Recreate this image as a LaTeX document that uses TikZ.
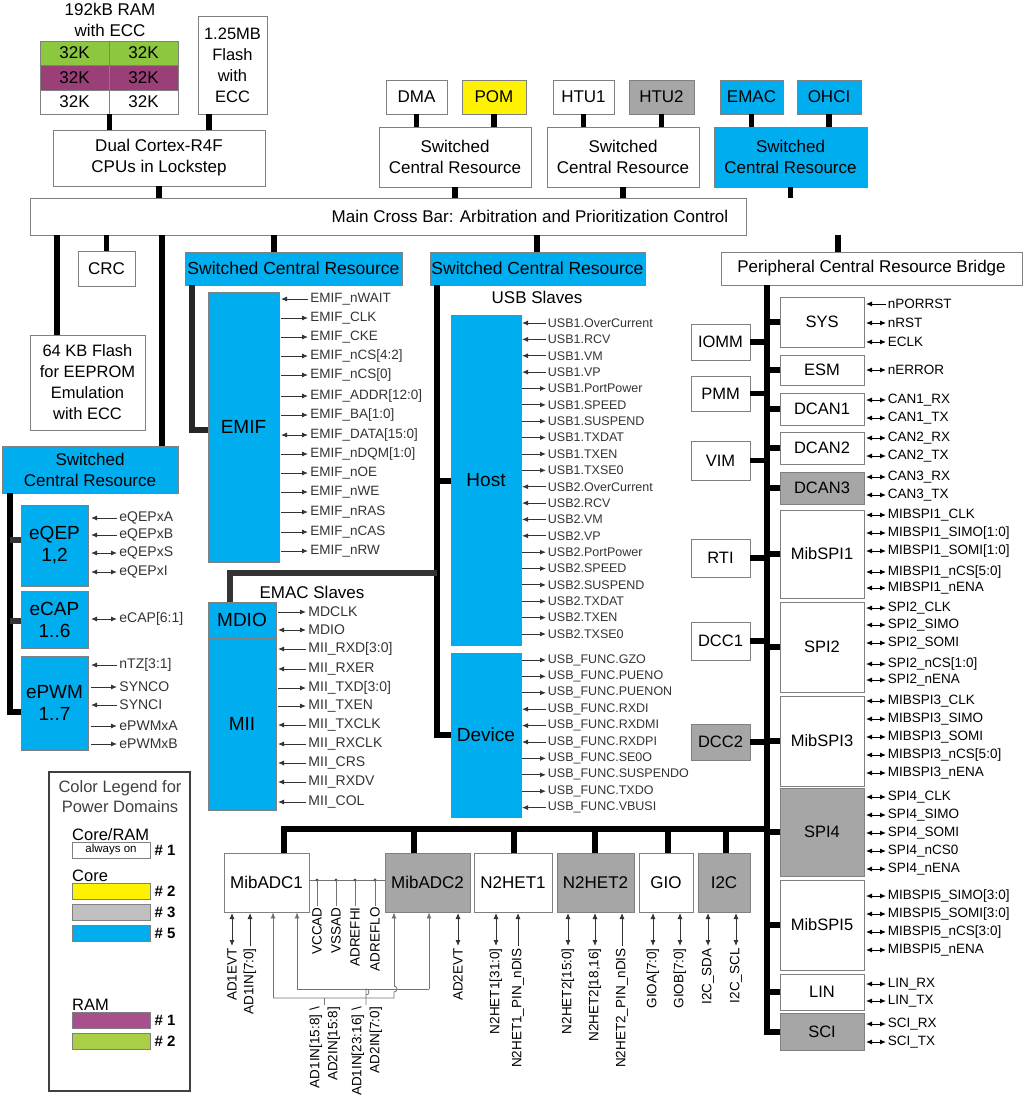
\documentclass[tikz,border=0pt]{standalone}
\usepackage{fontspec}
\setmainfont{Liberation Sans}
\usetikzlibrary{arrows.meta}
\definecolor{cblue}{HTML}{00AEEF}
\definecolor{cgray}{HTML}{A6A6A6}
\definecolor{cyel}{HTML}{FFF200}
\definecolor{rgreen}{HTML}{8DC63F}
\definecolor{rpurp}{HTML}{9B3F78}
\definecolor{lpurp}{HTML}{A94F8C}
\definecolor{lgreen}{HTML}{A8CF45}
\definecolor{lgray}{HTML}{C0C0C0}
\begin{document}
\begin{tikzpicture}[x=1pt,y=-1pt,>={Latex[length=6pt,width=5pt]},
 R/.style n args={4}{at={({(#1+#3)/2},{(#2+#4)/2})},minimum width={(#3-#1)*1pt},minimum height={(#4-#2)*1pt}},
 bx/.style={draw=black!50,line width=0.9pt,inner sep=0pt,align=center,fill=white,font=\fontsize{17}{21}\selectfont},
 big/.style={font=\fontsize{19}{22}\selectfont},
 gr/.style={fill=cgray}, bl/.style={fill=cblue},
 bus/.style={line width=5.5pt,line join=miter},
 sig/.style={line width=0.9pt,black!80},
 sl/.style={font=\fontsize{14}{15}\selectfont,inner sep=2pt},
 ai/.style={<-}, ao/.style={->}, ab/.style={<->},
 thin/.style={black!55,line width=0.8pt}]
\useasboundingbox (0,0) rectangle (1027,1103);

% ---------- top ----------
\node[align=center,font=\fontsize{17}{21}\selectfont] (ramt) at (110,20) {192kB RAM\\with ECC};
\node[bx,fill=rgreen,R={40}{41}{109}{65}] (r11) {32K};
\node[bx,fill=rgreen,R={109}{41}{178}{65}] (r12) {32K};
\node[bx,fill=rpurp,R={40}{65}{109}{90}] (r21) {32K};
\node[bx,fill=rpurp,R={109}{65}{178}{90}] (r22) {32K};
\node[bx,R={40}{90}{109}{114}] (r31) {32K};
\node[bx,R={109}{90}{178}{114}] (r32) {32K};
\node[bx,R={198}{16}{267}{114},font=\fontsize{16.5}{21}\selectfont] (flash) {1.25MB\\Flash\\with\\ECC};
\node[bx,R={53}{130}{265}{186}] (cpu) {Dual Cortex-R4F\\CPUs in Lockstep};
\node[bx,R={30}{198}{746}{235}] (bar) {};
\node[font=\fontsize{17}{21}\selectfont] (bart) at (530,216.5) {Main Cross Bar: Arbitration and Prioritization Control};
\node[bx,R={386}{80}{447}{114}] (dma) {DMA};
\node[bx,fill=cyel,R={462}{80}{526}{114}] (pom) {POM};
\node[bx,R={553}{80}{614}{114}] (htu1) {HTU1};
\node[bx,gr,R={629}{80}{694}{114}] (htu2) {HTU2};
\node[bx,bl,R={720}{80}{783}{114}] (emac) {EMAC};
\node[bx,bl,R={797}{80}{861}{114}] (ohci) {OHCI};
\node[bx,R={379}{127}{531}{187}] (scr1) {Switched\\Central Resource};
\node[bx,R={547}{127}{699}{187}] (scr2) {Switched\\Central Resource};
\node[bx,bl,R={714}{127}{867}{187}] (scr3) {Switched\\Central Resource};

\draw[bus] (r31.south east) -- (r31.south east |- cpu.north);
\draw[bus] (flash.south -| 209,0) -- (cpu.north -| 209,0);
\draw[bus] (cpu.south -| 159,0) -- (bar.north -| 159,0);
\foreach \a/\b in {dma/scr1,pom/scr1,htu1/scr2,htu2/scr2,emac/scr3,ohci/scr3}
  \draw[bus] (\a.south) -- (\a.south |- \b.north);
\foreach \a in {scr1,scr2,scr3} \draw[bus] (\a.south) -- (\a.south |- bar.north);

% ---------- below bar ----------
\node[bx,R={78}{251}{135}{286}] (crc) {CRC};
\node[bx,R={30}{335}{145}{430},font=\fontsize{16.5}{21}\selectfont] (eep) {64 KB Flash\\for EEPROM\\Emulation\\with ECC};
\node[bx,bl,R={2}{446}{178}{493}] (scrL) {Switched\\Central Resource};
\node[bx,bl,R={185}{252}{402}{285},font=\fontsize{17.5}{20}\selectfont] (scrE) {Switched Central Resource};
\node[bx,bl,R={430}{252}{645}{285},font=\fontsize{17.5}{20}\selectfont] (scrU) {Switched Central Resource};
\node[bx,R={721}{252}{1022}{285}] (pcrb) {Peripheral Central Resource Bridge};

\draw[bus] (bar.south -| 57,0) -- (eep.north -| 57,0);
\draw[bus] (crc.north) -- (crc.north |- bar.south);
\draw[bus] (bar.south -| 162,0) -- (scrL.north -| 162,0);
\draw[bus] (bar.south -| 274,0) -- (scrE.north -| 274,0);
\draw[bus] (bar.south -| 537,0) -- (scrU.north -| 537,0);
\draw[bus] (bar.south -| 838,0) -- (pcrb.north -| 838,0);

% ---------- EMIF ----------
\node[bx,bl,big,R={208}{292}{279}{562}] (emif) {EMIF};
\draw[bus,black!85] (scrE.south -| 192,0) -- (192,430) -- (emif.west |- 0,430);
\foreach \y/\d/\t in {299/ai/EMIF\_nWAIT,318/ao/EMIF\_CLK,337/ao/EMIF\_CKE,356/ao/EMIF\_nCS[4:2],375/ao/EMIF\_nCS[0],396/ao/EMIF\_ADDR[12:0],415/ao/EMIF\_BA[1:0],435/ab/EMIF\_DATA[15:0],454/ao/EMIF\_nDQM[1:0],473/ao/EMIF\_nOE,492/ao/EMIF\_nWE,512/ao/EMIF\_nRAS,532/ao/EMIF\_nCAS,551/ao/EMIF\_nRW}
  \draw[sig,\d] (281,\y) -- (308,\y) node[sl,anchor=west,font=\fontsize{13.5}{15}\selectfont]{\t};

% ---------- USB ----------
\node[font=\fontsize{17}{20}\selectfont] (usbs) at (537,297) {USB Slaves};
\node[bx,bl,big,R={451}{315}{521}{645}] (host) {Host};
\node[bx,bl,big,R={451}{653}{521}{817}] (dev) {Device};
\node[bx,bl,big,R={208}{602}{276}{638}] (mdio) {MDIO};
\node[bx,bl,big,R={208}{638}{276}{810}] (mii) {MII};
\node[font=\fontsize{17}{20}\selectfont] (emacs) at (312,592) {EMAC Slaves};
\draw[bus] (scrU.south -| 437,0) -- (437,735) -- (dev.west |- 0,735);
\draw[bus] (437,481) -- (host.west |- 0,481);
\draw[bus,black!80] (437,573) -- (230,573) -- (mdio.north -| 230,0);
\foreach [count=\i from 0] \d/\t in {ai/USB1.OverCurrent,ai/USB1.RCV,ai/USB1.VM,ai/USB1.VP,ao/USB1.PortPower,ao/USB1.SPEED,ao/USB1.SUSPEND,ao/USB1.TXDAT,ao/USB1.TXEN,ao/USB1.TXSE0,ai/USB2.OverCurrent,ai/USB2.RCV,ai/USB2.VM,ai/USB2.VP,ao/USB2.PortPower,ao/USB2.SPEED,ao/USB2.SUSPEND,ao/USB2.TXDAT,ao/USB2.TXEN,ao/USB2.TXSE0}
  \draw[sig,\d] (522,{323+\i*16.37}) -- (546,{323+\i*16.37}) node[sl,anchor=west,inner sep=1.5pt,font=\fontsize{12.5}{14}\selectfont]{\t};
\foreach [count=\i from 0] \d/\t in {ao/USB\_FUNC.GZO,ao/USB\_FUNC.PUENO,ao/USB\_FUNC.PUENON,ai/USB\_FUNC.RXDI,ai/USB\_FUNC.RXDMI,ai/USB\_FUNC.RXDPI,ao/USB\_FUNC.SE0O,ao/USB\_FUNC.SUSPENDO,ao/USB\_FUNC.TXDO,ai/USB\_FUNC.VBUSI}
  \draw[sig,\d] (522,{660+\i*16.4}) -- (546,{660+\i*16.4}) node[sl,anchor=west,inner sep=1.5pt,font=\fontsize{12.5}{14}\selectfont]{\t};
\foreach \y/\d/\t in {612/ao/MDCLK,630/ab/MDIO,649/ai/MII\_RXD[3:0],669/ai/MII\_RXER,688/ao/MII\_TXD[3:0],706/ao/MII\_TXEN,725/ai/MII\_TXCLK,744/ai/MII\_RXCLK,763/ai/MII\_CRS,782/ai/MII\_RXDV,802/ai/MII\_COL}
  \draw[sig,\d] (278,\y) -- (306,\y) node[sl,anchor=west]{\t};

% ---------- left group ----------
\node[bx,bl,R={21}{505}{88}{586},font=\fontsize{19}{22}\selectfont] (eqep) {eQEP\\1,2};
\node[bx,bl,R={21}{591}{88}{648},font=\fontsize{19}{22}\selectfont] (ecap) {eCAP\\1..6};
\node[bx,bl,R={21}{656}{88}{750},font=\fontsize{19}{22}\selectfont] (epwm) {ePWM\\1..7};
\draw[bus] (scrL.south -| 10,0) -- (10,712) -- (epwm.west |- 0,712);
\draw[bus,black!80] (10,540) -- (eqep.west |- 0,540);
\draw[bus,black!80] (10,621) -- (ecap.west |- 0,621);
\foreach \y/\d/\t in {518/ai/eQEPxA,535/ai/eQEPxB,553/ab/eQEPxS,572/ab/eQEPxI,619/ab/eCAP[6:1],665/ai/nTZ[3:1],687/ao/SYNCO,705/ai/SYNCI,726/ao/ePWMxA,744/ao/ePWMxB}
  \draw[sig,\d] (91,\y) -- (117,\y) node[sl,anchor=west]{\t};

% ---------- legend ----------
\node[draw=black!75,line width=1.5pt,R={49}{772}{190}{1091}] (leg) {};
\node[align=center,text=black!75,font=\fontsize{16.5}{20}\selectfont] (legt) at (120,797) {Color Legend for\\Power Domains};
\node[anchor=south west,inner sep=0pt,font=\fontsize{16.5}{17}\selectfont] (lcr) at (72,841) {Core/RAM};
\node[bx,R={72}{842}{150}{858},font=\fontsize{11.5}{12}\selectfont] (l1) {always on};
\node[anchor=south west,inner sep=0pt,font=\fontsize{16.5}{17}\selectfont] (lco) at (72,882) {Core};
\node[bx,fill=cyel,R={72}{883}{150}{899}] (l2) {};
\node[bx,fill=lgray,R={72}{904}{150}{920}] (l3) {};
\node[bx,bl,R={72}{925}{150}{941}] (l5) {};
\node[anchor=south west,inner sep=0pt,font=\fontsize{16.5}{17}\selectfont] (lra) at (72,1011) {RAM};
\node[bx,fill=lpurp,R={72}{1012}{150}{1028}] (lr1) {};
\node[bx,fill=lgreen,R={72}{1033}{150}{1049}] (lr2) {};
\foreach \n/\t in {l1/1,l2/2,l3/3,l5/5,lr1/1,lr2/2}
  \node[anchor=west,font=\bfseries\fontsize{15}{16}\selectfont,inner sep=0pt] at ([xshift=4pt]\n.east) {\# \t};

% ---------- right side ----------
\tikzset{rb/.style={bx,font=\fontsize{16.5}{20}\selectfont}}
\node[rb,R={780}{297}{864}{347}] (sys) {SYS};
\node[rb,R={780}{355}{864}{385}] (esm) {ESM};
\node[rb,R={780}{393}{864}{425}] (dcan1) {DCAN1};
\node[rb,R={780}{432}{864}{464}] (dcan2) {DCAN2};
\node[rb,gr,R={780}{472}{864}{504}] (dcan3) {DCAN3};
\node[rb,R={780}{510}{864}{598}] (mibspi1) {MibSPI1};
\node[rb,R={780}{602}{864}{692}] (spi2) {SPI2};
\node[rb,R={780}{696}{864}{786}] (mibspi3) {MibSPI3};
\node[rb,gr,R={780}{788}{864}{876}] (spi4) {SPI4};
\node[rb,R={780}{880}{864}{970}] (mibspi5) {MibSPI5};
\node[rb,R={780}{974}{864}{1010}] (lin) {LIN};
\node[rb,gr,R={780}{1013}{864}{1050}] (sci) {SCI};
\node[rb,R={691}{324}{750}{360}] (iomm) {IOMM};
\node[rb,R={691}{376}{750}{411}] (pmm) {PMM};
\node[rb,R={691}{441}{750}{480}] (vim) {VIM};
\node[rb,R={691}{539}{750}{577}] (rti) {RTI};
\node[rb,R={691}{622}{750}{660}] (dcc1) {DCC1};
\node[rb,gr,R={691}{724}{750}{760}] (dcc2) {DCC2};
\draw[bus] (pcrb.south -| 767,0) -- (767,1032) -- (sci.west |- 0,1032);
\foreach \n in {sys,esm,dcan1,dcan2,dcan3,mibspi1,spi2,mibspi3,spi4,mibspi5,lin}
  \draw[bus] (\n.west -| 767,0) -- (\n.west);
\foreach \n in {iomm,pmm,vim,rti,dcc1,dcc2}
  \draw[bus] (\n.east) -- (\n.east -| 767,0);
\foreach \y/\d/\t in {304/ai/nPORRST,323/ab/nRST,342/ab/ECLK,370/ab/nERROR,400/ab/CAN1\_RX,418/ab/CAN1\_TX,438/ab/CAN2\_RX,456/ab/CAN2\_TX,477/ab/CAN3\_RX,495/ab/CAN3\_TX,515/ab/MIBSPI1\_CLK,533/ab/MIBSPI1\_SIMO[1:0],551/ab/MIBSPI1\_SOMI[1:0],572/ab/MIBSPI1\_nCS[5:0],588/ab/MIBSPI1\_nENA,608/ab/SPI2\_CLK,625/ab/SPI2\_SIMO,643/ab/SPI2\_SOMI,664/ab/SPI2\_nCS[1:0],680/ab/SPI2\_nENA,701/ab/MIBSPI3\_CLK,719/ab/MIBSPI3\_SIMO,737/ab/MIBSPI3\_SOMI,755/ab/MIBSPI3\_nCS[5:0],773/ab/MIBSPI3\_nENA,797/ab/SPI4\_CLK,815/ab/SPI4\_SIMO,833/ab/SPI4\_SOMI,851/ab/SPI4\_nCS0,869/ab/SPI4\_nENA,896/ab/MIBSPI5\_SIMO[3:0],914/ab/MIBSPI5\_SOMI[3:0],932/ab/MIBSPI5\_nCS[3:0],950/ab/MIBSPI5\_nENA,984/ab/LIN\_RX,1001/ab/LIN\_TX,1024/ab/SCI\_RX,1042/ab/SCI\_TX}
  \draw[sig,black,\d] (866,\y) -- (886,\y) node[sl,anchor=west,inner sep=1.5pt,font=\fontsize{13.5}{15}\selectfont]{\t};

% ---------- bottom ----------
\node[bx,R={224}{853}{309}{912}] (adc1) {MibADC1};
\node[bx,gr,R={385}{853}{470}{912}] (adc2) {MibADC2};
\node[bx,R={474}{853}{552}{912}] (het1) {N2HET1};
\node[bx,gr,R={557}{853}{634}{912}] (het2) {N2HET2};
\node[bx,R={639}{853}{693}{912}] (gio) {GIO};
\node[bx,gr,R={698}{853}{750}{912}] (i2c) {I2C};
\draw[bus] (767,829) -- (284,829) -- (adc1.north -| 284,0);
\foreach \n/\x in {adc2/414,het1/514,het2/595,gio/668,i2c/726}
  \draw[bus] (\x,829) -- (\n.north -| \x,0);

% ADC analog connections
\draw[thin] (adc1.east |- 0,880) -- (adc2.west |- 0,880);
\foreach \x/\t in {317/VCCAD,336/VSSAD,355/ADREFHI,375/ADREFLO}{
  \fill[black!70] (\x,880) circle (1.6pt);
  \draw[thin] (\x,880) -- (\x,906) node[sl,rotate=90,anchor=east,black,inner sep=1pt,font=\fontsize{13.5}{15}\selectfont]{\t};}
\draw[thin,->] (297,989) -- (adc1.south -| 297,0);
\draw[thin] (297,989) -- (429,989);
\draw[thin,->] (429,989) -- (adc2.south -| 429,0);
\draw[thin,->] (273,998) -- (adc1.south -| 273,0);
\draw[thin] (273,998) -- (394,998) -- (394,992) arc[start angle=-90,end angle=90,radius=3pt] -- (394,986);
\draw[thin,->] (394,986) -- (adc2.south -| 394,0);
\draw[thin] (324,998) -- (324,1005);
\draw[thin] (366,989) -- (366,995) arc[start angle=-90,end angle=90,radius=3pt] -- (366,1005);
\node[rotate=90,anchor=east,align=right,font=\fontsize{13.5}{18}\selectfont,inner sep=1pt] (lab1) at (325,1006) {AD1IN[15:8] \textbackslash\\AD2IN[15:8]};
\node[rotate=90,anchor=east,align=right,font=\fontsize{13.5}{18}\selectfont,inner sep=1pt] (lab2) at (367,1006) {AD1IN[23:16] \textbackslash\\AD2IN[7:0]};

\foreach \x/\d/\t in {232/ab/AD1EVT,250/ai/AD1IN[7:0],458/ab/AD2EVT,496/ab/N2HET1[31:0],518/ai/N2HET1\_PIN\_nDIS,568/ab/N2HET2[15:0],595/ab/{N2HET2[18,16]},622/ai/N2HET2\_PIN\_nDIS,653/ab/GIOA[7:0],680/ab/GIOB[7:0],708/ab/I2C\_SDA,736/ab/I2C\_SCL}
  \draw[sig,\d] (\x,913) -- (\x,946) node[sl,rotate=90,anchor=east,black,font=\fontsize{13.5}{15}\selectfont]{\t};
\end{tikzpicture}
\end{document}
